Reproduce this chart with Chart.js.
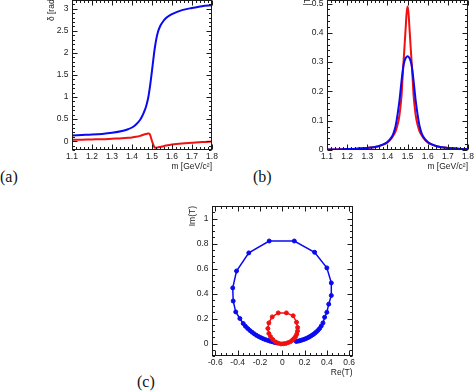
<!DOCTYPE html>
<html>
<head>
<meta charset="utf-8">
<script src="https://cdn.jsdelivr.net/npm/chart.js@4.4.0/dist/chart.umd.min.js"></script>
<style>
  html, body { margin: 0; padding: 0; background: #fff; }
  body { position: relative; width: 474px; height: 391px; overflow: hidden; }
  canvas { position: absolute; }
  .tag { position: absolute; font-family: "Liberation Serif", serif; font-size: 16px; line-height: 16px; color: #111; }
  .ytitle { position: absolute; font-family: "Liberation Sans", sans-serif; font-size: 8.5px; line-height: 10px; color: #222;
            writing-mode: vertical-rl; transform: rotate(180deg); white-space: nowrap; }
</style>
</head>
<body>
<canvas id="chartA" width="180" height="175" style="left:40px;top:0"></canvas>
<canvas id="chartB" width="179" height="175" style="left:295px;top:0"></canvas>
<canvas id="chartC" width="182" height="181" style="left:180px;top:200px"></canvas>
<div class="ytitle" style="left:46px;top:-3px">δ [rad]</div>
<div class="ytitle" style="left:302px;top:-7px">|T|²</div>
<div class="tag" style="left:0;top:169px">(a)</div>
<div class="tag" style="left:253px;top:169px">(b)</div>
<div class="tag" style="left:137px;top:374px">(c)</div>
<script>
// (a) phase vs mass
const massA = [1.10, 1.15, 1.20, 1.25, 1.30, 1.35, 1.38, 1.40, 1.42, 1.44, 1.45, 1.46, 1.47, 1.48, 1.485,
  1.49, 1.50, 1.51, 1.515, 1.52, 1.53, 1.54, 1.55, 1.57, 1.60, 1.65, 1.70, 1.75, 1.80];
const phaseBlue = [0.13, 0.14, 0.15, 0.165, 0.19, 0.23, 0.27, 0.31, 0.38, 0.48, 0.56, 0.66, 0.78, 0.96, 1.09,
  1.24, 1.60, 1.98, 2.14, 2.28, 2.48, 2.60, 2.68, 2.79, 2.88, 2.97, 3.02, 3.06, 3.08];
const phaseRed = [0.03, 0.035, 0.04, 0.045, 0.055, 0.065, 0.075, 0.085, 0.10, 0.12, 0.135, 0.15, 0.162, 0.172, 0.175,
  0.15, 0.0, -0.12, -0.15, -0.15, -0.14, -0.13, -0.12, -0.10, -0.075, -0.05, -0.035, -0.02, -0.01];

// (b) peak vs mass
const massB = [1.10, 1.15, 1.20, 1.25, 1.30, 1.35, 1.38, 1.40, 1.42, 1.43, 1.44, 1.45, 1.46, 1.47, 1.475, 1.48,
  1.485, 1.49, 1.495, 1.50, 1.505, 1.51, 1.515, 1.52, 1.525, 1.53, 1.54, 1.55, 1.56, 1.57, 1.58, 1.60, 1.62,
  1.65, 1.70, 1.75, 1.80];
const peakBlue = [0.0015, 0.002, 0.003, 0.0045, 0.007, 0.012, 0.019, 0.027, 0.043, 0.057, 0.08, 0.12, 0.17, 0.235,
  0.265, 0.29, 0.304, 0.313, 0.318, 0.32, 0.318, 0.313, 0.304, 0.29, 0.265, 0.235, 0.17, 0.12, 0.08, 0.057, 0.043,
  0.027, 0.019, 0.012, 0.007, 0.0045, 0.003];
const peakRed = [0.0015, 0.002, 0.003, 0.0045, 0.007, 0.012, 0.019, 0.026, 0.04, 0.05, 0.063, 0.085, 0.12, 0.185,
  0.245, 0.30, 0.355, 0.41, 0.465, 0.49, 0.465, 0.41, 0.355, 0.30, 0.245, 0.185, 0.12, 0.085, 0.063, 0.05, 0.04,
  0.026, 0.019, 0.012, 0.007, 0.0045, 0.003];

// (c) Argand diagram
const reBlue = [0.125, 0.14, 0.155, 0.17, 0.185, 0.20, 0.215, 0.23, 0.245, 0.26, 0.275, 0.29, 0.305, 0.32, 0.335,
  0.35, 0.365, 0.38, 0.40, 0.417, 0.44, 0.44, 0.40, 0.29, 0.108, -0.117, -0.30, -0.41, -0.444, -0.44, -0.417,
  -0.38, -0.35, -0.33, -0.31, -0.29, -0.27, -0.25, -0.23, -0.21, -0.19, -0.17, -0.15, -0.13, -0.11, -0.09, -0.07, -0.05];
const imBlue = [0.017, 0.019, 0.022, 0.026, 0.030, 0.035, 0.040, 0.047, 0.054, 0.062, 0.071, 0.081, 0.092, 0.105, 0.12,
  0.14, 0.165, 0.21, 0.25, 0.315, 0.384, 0.485, 0.605, 0.73, 0.82, 0.82, 0.725, 0.58, 0.445, 0.34, 0.253,
  0.20, 0.16, 0.138, 0.12, 0.104, 0.09, 0.077, 0.065, 0.055, 0.046, 0.038, 0.031, 0.025, 0.019, 0.014, 0.009, 0.005];
const reRed = [0.01, 0.03, 0.05, 0.072, 0.09, 0.105, 0.12, 0.13, 0.137, 0.138, 0.128, 0.098, 0.037, -0.036, -0.09,
  -0.12, -0.129, -0.12, -0.105, -0.085, -0.06, -0.035, -0.012];
const imRed = [-0.002, 0.0, 0.006, 0.014, 0.026, 0.04, 0.056, 0.075, 0.1, 0.128, 0.17, 0.222, 0.245, 0.245, 0.213,
  0.165, 0.12, 0.08, 0.055, 0.032, 0.012, 0.002, -0.003];

const massTicks = [1.1, 1.2, 1.3, 1.4, 1.5, 1.6, 1.7, 1.8];
const phaseTicks = [0, 0.5, 1, 1.5, 2, 2.5, 3];
const peakTicks = [0, 0.1, 0.2, 0.3, 0.4, 0.5];
const reTicks = [-0.6, -0.4, -0.2, 0, 0.2, 0.4, 0.6];
const imTicks = [0, 0.2, 0.4, 0.6, 0.8, 1];

const BLUE = "#0a0af0";
const RED = "#f01010";
const tickFont = { family: "Liberation Sans", size: 8.5 };
const textColor = "#222";

const pts = (xs, ys) => xs.map((x, i) => ({ x: x, y: ys[i] }));

// box with inward ticks on all four sides, ROOT style
const frameTicks = {
  id: "frameTicks",
  afterDraw(chart, args, opts) {
    const { ctx, chartArea: a, scales } = chart;
    const l = Math.round(a.left) + 0.5, r = Math.round(a.right) - 0.5;
    const t = Math.round(a.top) + 0.5, b = Math.round(a.bottom) - 0.5;
    ctx.save();
    ctx.strokeStyle = "#1a1a1a";
    ctx.lineWidth = 1;
    ctx.strokeRect(l, t, r - l, b - t);
    ctx.beginPath();
    ["x", "y"].forEach((id) => {
      const s = scales[id];
      const step = opts[id + "Minor"];
      const every = opts[id + "Every"];
      const first = Math.ceil(s.min / step - 1e-6);
      const last = Math.floor(s.max / step + 1e-6);
      for (let n = first; n <= last; n++) {
        const len = n % every === 0 ? 5 : 2.5;
        const p = Math.round(s.getPixelForValue(n * step)) + 0.5;
        if (id === "x") {
          ctx.moveTo(p, b); ctx.lineTo(p, b - len);
          ctx.moveTo(p, t); ctx.lineTo(p, t + len);
        } else {
          ctx.moveTo(l, p); ctx.lineTo(l + len, p);
          ctx.moveTo(r, p); ctx.lineTo(r - len, p);
        }
      }
    });
    ctx.stroke();
    ctx.restore();
  }
};

function xAxis(ticks, min, max, title) {
  return {
    type: "linear", min: min, max: max,
    grid: { display: false, drawTicks: false }, border: { display: false },
    afterBuildTicks: (s) => { s.ticks = ticks.map((v) => ({ value: v })); },
    afterFit: (s) => { s.height = 25; s.paddingLeft = 0; s.paddingRight = 0; },
    ticks: { font: tickFont, color: textColor, padding: 2, autoSkip: false, maxRotation: 0, callback: (v) => String(v) },
    title: { display: true, text: title, align: "end", font: tickFont, color: textColor, padding: { top: 3.6, bottom: 3.6 } }
  };
}

function yAxis(ticks, min, max, title, titlePad) {
  return {
    type: "linear", min: min, max: max,
    grid: { display: false, drawTicks: false }, border: { display: false },
    afterBuildTicks: (s) => { s.ticks = ticks.map((v) => ({ value: v })); },
    afterFit: (s) => { s.width = 32; s.paddingTop = 0; s.paddingBottom = 0; },
    ticks: { font: tickFont, color: textColor, padding: 3.5, autoSkip: false, callback: (v) => String(v) },
    title: { display: !!title, text: title || "", align: "end", font: tickFont, color: textColor, padding: { top: titlePad || 0, bottom: titlePad || 0 } }
  };
}

const baseOptions = (pad, scales, ticksOpts) => ({
  responsive: false,
  animation: false,
  layout: { padding: pad },
  plugins: { legend: { display: false }, tooltip: { enabled: false }, frameTicks: ticksOpts },
  scales: scales
});

new Chart(document.getElementById("chartA").getContext("2d"), {
  type: "scatter",
  data: {
    datasets: [
      { data: pts(massA, phaseBlue), showLine: true, borderColor: BLUE, borderWidth: 2, pointRadius: 0, cubicInterpolationMode: "monotone" },
      { data: pts(massA, phaseRed), showLine: true, borderColor: RED, borderWidth: 2, pointRadius: 0, cubicInterpolationMode: "monotone" }
    ]
  },
  options: baseOptions({ left: 0, right: 8, top: 0, bottom: 0 },
    { x: xAxis(massTicks, 1.1, 1.8, "m [GeV/c²]"), y: yAxis(phaseTicks, -0.2, 3.2) },
    { xMinor: 0.02, xEvery: 5, yMinor: 0.1, yEvery: 5 }),
  plugins: [frameTicks]
});

new Chart(document.getElementById("chartB").getContext("2d"), {
  type: "scatter",
  data: {
    datasets: [
      { data: pts(massB, peakBlue), showLine: true, borderColor: BLUE, borderWidth: 2, pointRadius: 0, cubicInterpolationMode: "monotone" },
      { data: pts(massB, peakRed), showLine: true, borderColor: RED, borderWidth: 2, pointRadius: 0, cubicInterpolationMode: "monotone" }
    ]
  },
  options: baseOptions({ left: 0, right: 6, top: 0, bottom: 0 },
    { x: xAxis(massTicks, 1.1, 1.8, "m [GeV/c²]"), y: yAxis(peakTicks, 0, 0.512) },
    { xMinor: 0.02, xEvery: 5, yMinor: 0.02, yEvery: 5 }),
  plugins: [frameTicks]
});

new Chart(document.getElementById("chartC").getContext("2d"), {
  type: "scatter",
  data: {
    datasets: [
      { data: pts(reRed, imRed), showLine: true, borderColor: RED, backgroundColor: RED, borderWidth: 1.5,
        pointRadius: 2, pointBorderWidth: 1, pointBorderColor: RED, pointBackgroundColor: RED },
      { data: pts(reBlue, imBlue), showLine: true, borderColor: BLUE, backgroundColor: BLUE, borderWidth: 1.5,
        pointRadius: 2, pointBorderWidth: 1, pointBorderColor: BLUE, pointBackgroundColor: BLUE }
    ]
  },
  options: baseOptions({ left: 0, right: 9.5, top: 6, bottom: 0 },
    { x: xAxis(reTicks, -0.63, 0.63, "Re(T)"), y: yAxis(imTicks, -0.1, 1.1, "Im(T)", 7.6) },
    { xMinor: 0.05, xEvery: 4, yMinor: 0.05, yEvery: 4 }),
  plugins: [frameTicks]
});
</script>
</body>
</html>
